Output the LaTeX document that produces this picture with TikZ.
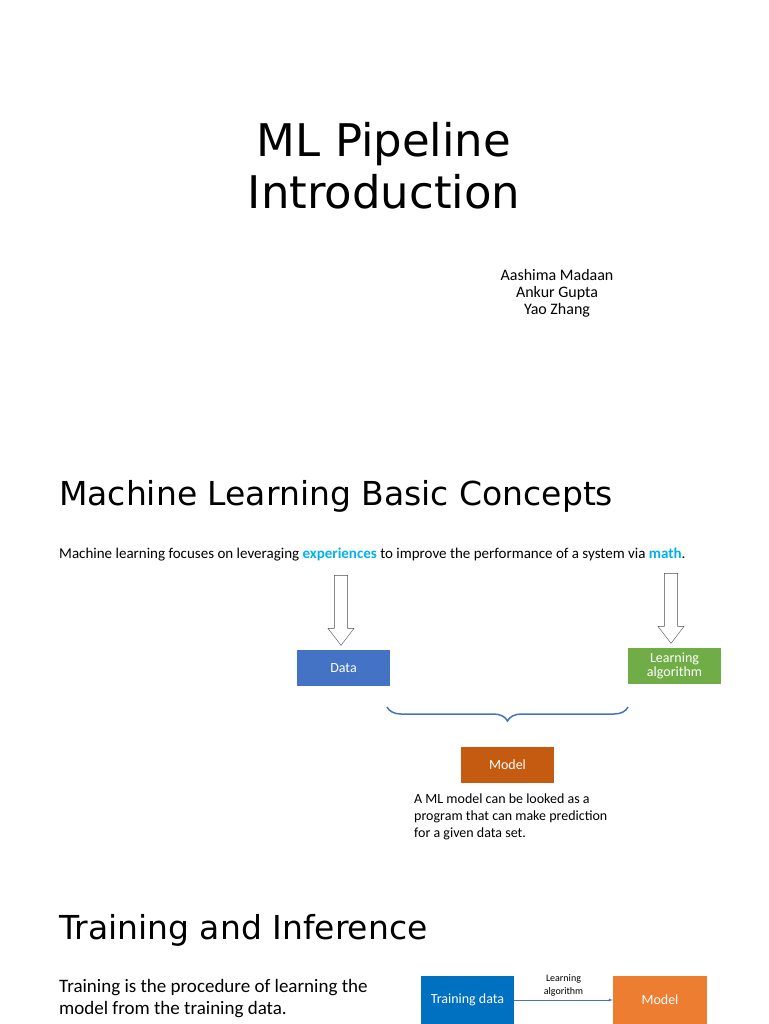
\documentclass[tikz,border=0pt]{standalone}
\usepackage{fontspec}
\setmainfont{Carlito}
\newfontfamily\headfont{DejaVu Sans}
\usetikzlibrary{shapes.arrows,decorations.pathreplacing}
\definecolor{cblue}{HTML}{4472C4}
\definecolor{cgreen}{HTML}{70AD47}
\definecolor{corange}{HTML}{C55A11}
\definecolor{tblue}{HTML}{0070C0}
\definecolor{torange}{HTML}{ED7D31}
\definecolor{hl}{HTML}{00B0F0}
\begin{document}
\begin{tikzpicture}[x=1pt,y=-1pt,
  box/.style={draw=none,text=white,align=center,font=\fontsize{14}{15}\selectfont,inner sep=0},
  head/.style={anchor=west,font=\headfont\fontsize{33}{38}\selectfont,inner sep=0},
  barrow/.style={single arrow,draw=black!70,fill=white,shape border rotate=270,minimum height=70,minimum width=26,single arrow head extend=4,single arrow tip angle=75,inner sep=4}]
\useasboundingbox (0,0) rectangle (768,1024);
\node[font=\headfont\fontsize{45}{52}\selectfont,align=center,inner sep=0] (title) at (384,166) {ML Pipeline\\Introduction};
\node[font=\fontsize{16}{17}\selectfont,align=center,inner sep=0] (auth) at (557,293) {Aashima Madaan\\Ankur Gupta\\Yao Zhang};
\node[head] (h1) at (59,496) {Machine Learning Basic Concepts};
\node[anchor=west,inner sep=0,font=\fontsize{15}{16}\selectfont] (s1) at (59,555) {Machine learning focuses on leveraging \textcolor{hl}{\textbf{experiences}} to improve the performance of a system via \textcolor{hl}{\textbf{math}}.};
\node[barrow] (a1) at (341,606) {};
\node[barrow] (a2) at (671,604) {};
\node[box,fill=cblue,minimum width=93,minimum height=36] (data) at (343.5,668) {Data};
\node[box,fill=cgreen,minimum width=93,minimum height=36] (alg) at (674.5,666) {Learning\\[-1pt]algorithm};
\coordinate (bl) at (387,707);
\coordinate (br) at (628,707);
\draw[cblue,line width=1.5pt,decorate,decoration={brace,mirror,amplitude=14}] (bl) -- (br);
\node[box,fill=corange,minimum width=93,minimum height=36] (model) at (507.5,765) {Model};
\node[anchor=north west,align=left,inner sep=0,font=\fontsize{14}{17}\selectfont] (desc) at (414,794) {A ML model can be looked as a\\program that can make prediction\\for a given data set.};
\node[head] (h2) at (59,930) {Training and Inference};
\node[anchor=north west,align=left,inner sep=0,font=\fontsize{19}{22}\selectfont] (tr) at (59,979) {Training is the procedure of learning the\\model from the training data.};
\node[box,fill=tblue,minimum width=93,minimum height=48] (td) at (467.5,1000) {Training data};
\node[box,fill=torange,minimum width=94,minimum height=48] (tm) at (660,1000) {Model};
\draw[cblue,-latex] (td) -- node[above,text=black,align=center,font=\fontsize{10}{13}\selectfont,inner sep=4] (lab) {Learning\\algorithm} (tm);
\end{tikzpicture}
\end{document}
